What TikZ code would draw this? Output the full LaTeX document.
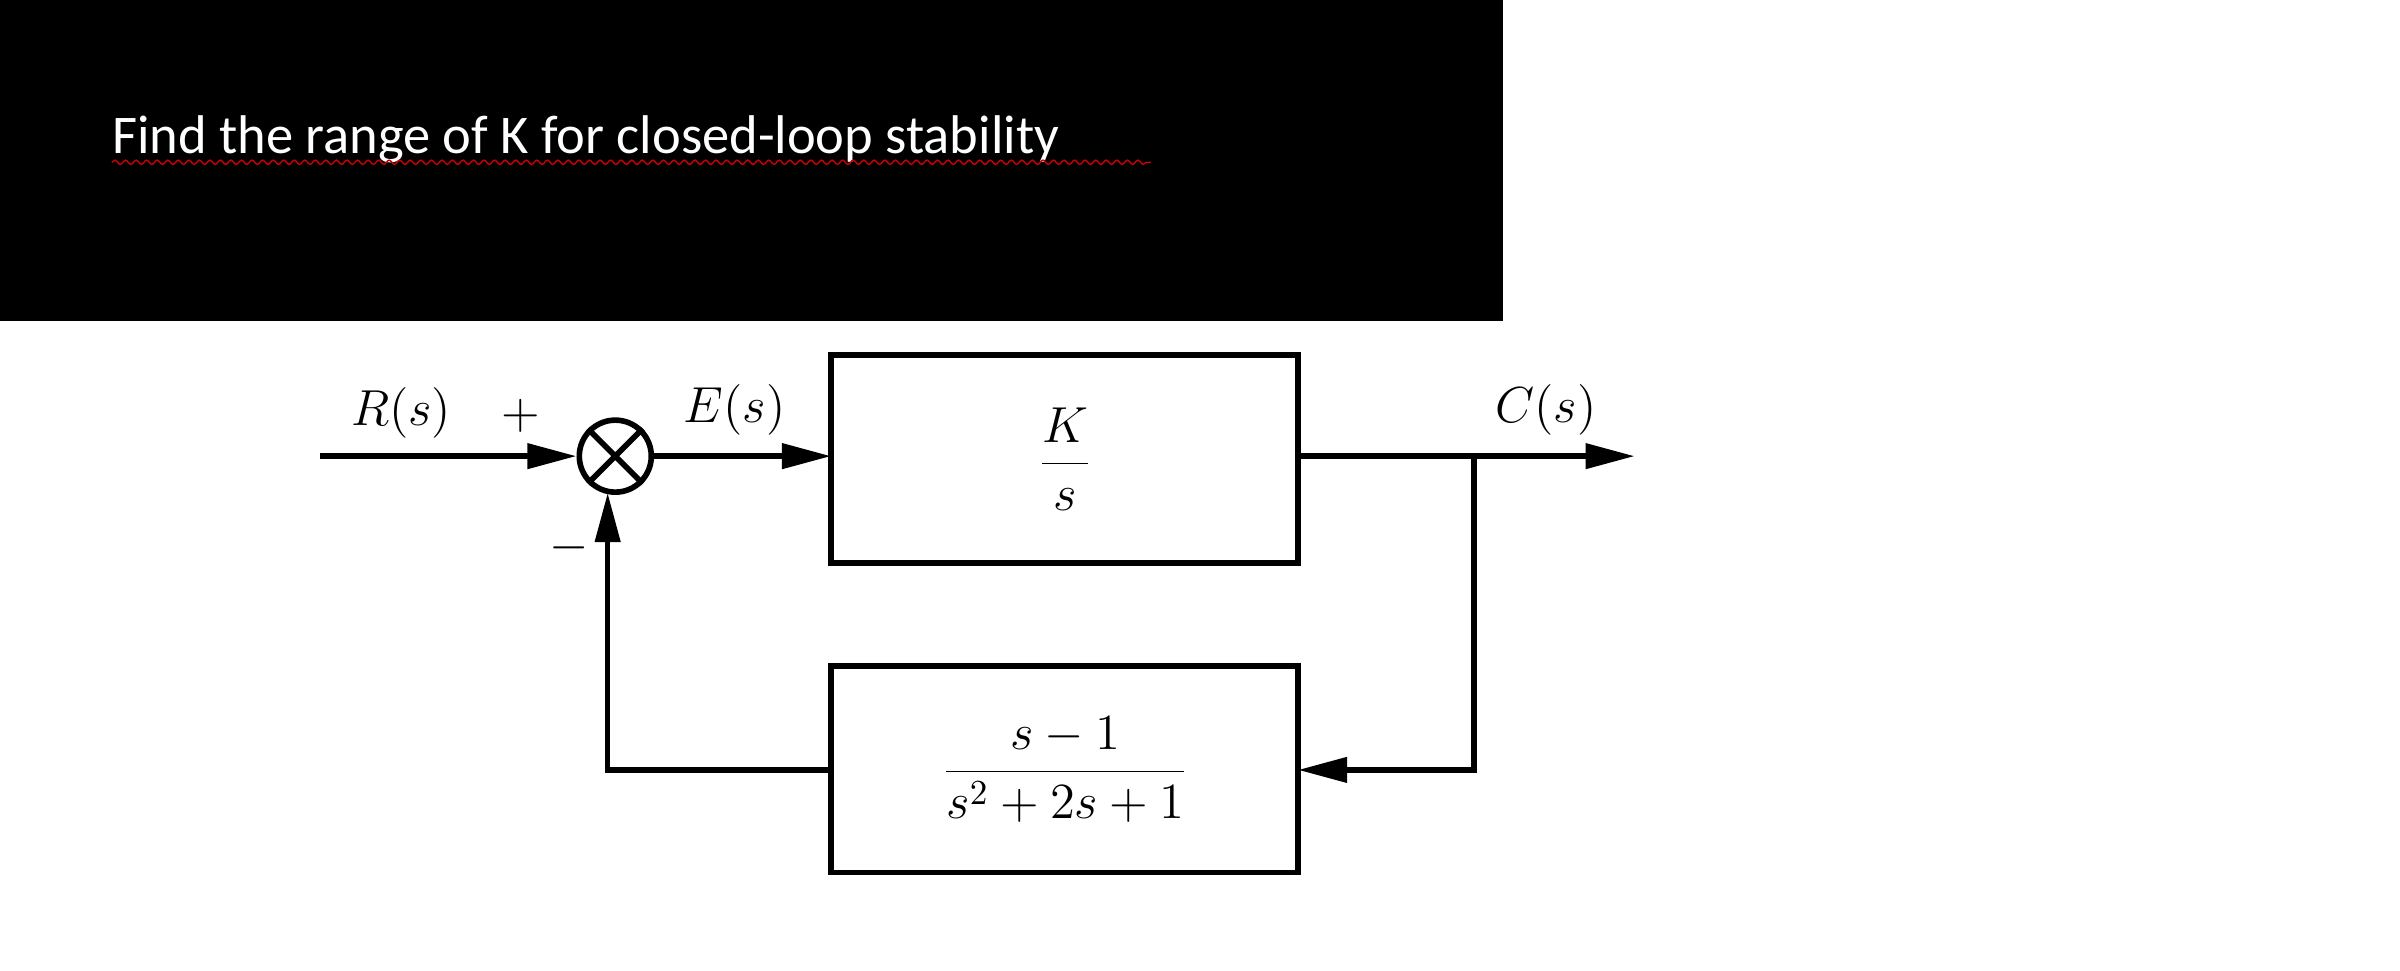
\documentclass[tikz,border=0pt]{standalone}
\usepackage{fontspec}
\setmainfont{Liberation Serif}
\newfontfamily\calib{Carlito}
\usetikzlibrary{arrows.meta,decorations.pathmorphing}
\begin{document}
\begin{tikzpicture}[x=0.015306cm,y=-0.015306cm,
  line/.style={line width=1.6pt},
  arr/.style={line, -{Triangle[length=14pt,width=7pt]}},
  lbl/.style={font=\fontsize{14}{16}\selectfont}]
\useasboundingbox (0,0) rectangle (1568,634);
\fill[black] (0,0) rectangle (982,210);
\node[anchor=base west,text=white,font=\calib\fontsize{15.5}{18}\selectfont,inner sep=0] (title) at (73,100) {Find the range of K for closed-loop stability};
\draw[red!80!black,line width=0.4pt,decorate,decoration={snake,amplitude=0.6pt,segment length=3pt}]
  (73,106) -- (752,106);
\node[draw,circle,line width=1.6pt,minimum size=0.72cm,inner sep=0] (sum) at (402,298) {};
\draw[line width=1.6pt] (sum.north west) -- (sum.south east) (sum.north east) -- (sum.south west);
\draw[line width=1.6pt] (543,232) rectangle (848,368);
\draw[line width=1.6pt] (543,435) rectangle (848,570);
\node[lbl] (g) at (696,300) {$\displaystyle\frac{K}{s}$};
\node[lbl] (h) at (696,503) {$\displaystyle\frac{s-1}{s^2+2s+1}$};
\coordinate (in) at (209,298);
\coordinate (b1l) at (543,298);
\coordinate (b1r) at (848,298);
\coordinate (out) at (1068,298);
\coordinate (br) at (963,298);
\coordinate (brd) at (963,503);
\coordinate (b2r) at (848,503);
\coordinate (b2l) at (543,503);
\coordinate (fl) at (397,503);
\draw[arr] (in) -- (sum.west);
\draw[arr] (sum.east) -- (b1l);
\draw[arr] (b1r) -- (out);
\draw[arr] (br) -- (brd) -- (b2r);
\draw[arr] (b2l) -- (fl) -- (397,322);
\node[lbl] (r) at (262,270) {$R(s)$};
\node[lbl] (plus) at (340,272) {$+$};
\node[lbl] (minus) at (372,358) {$-$};
\node[lbl] (e) at (480,268) {$E(s)$};
\node[lbl] (c) at (1010,268) {$C(s)$};
\end{tikzpicture}
\end{document}
